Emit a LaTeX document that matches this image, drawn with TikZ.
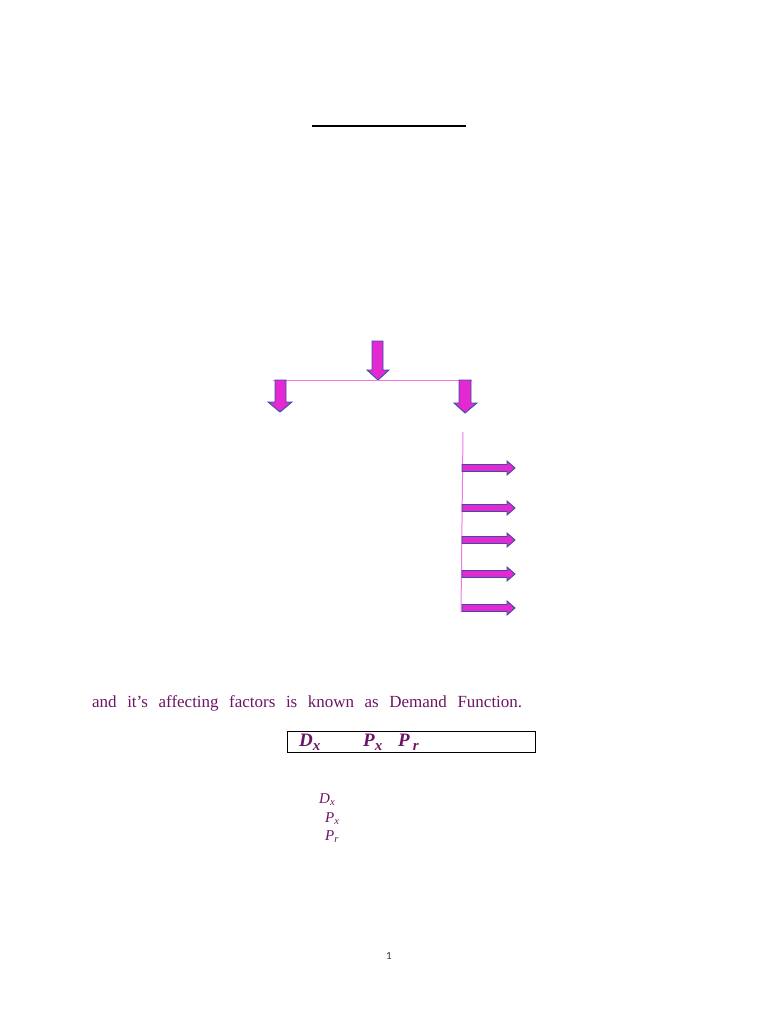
\documentclass[tikz,border=0pt]{standalone}
\usepackage{fontspec}
\setmainfont{Liberation Serif}
\newfontfamily\pagefont{Carlito}
\usepackage{tikz}
\usepackage{xcolor}

\definecolor{arrowfill}{RGB}{228,40,210}
\definecolor{arrowedge}{RGB}{55,80,160}
\definecolor{linkpink}{RGB}{240,120,230}
\definecolor{textpurple}{RGB}{110,20,100}

\newcommand{\lowsub}[1]{\raisebox{-4pt}{\fontsize{15}{17}\selectfont #1}}

\tikzset{
    blockarrow/.style={fill=arrowfill,draw=arrowedge,line width=0.9pt,line join=miter},
    linkline/.style={draw=linkpink,line width=1pt},
    purpletext/.style={text=textpurple,inner sep=0pt},
    boxvar/.style={purpletext,anchor=base west,font=\fontsize{19}{22}\selectfont\bfseries\itshape},
    smallvar/.style={purpletext,anchor=base west,font=\fontsize{15}{17}\selectfont\itshape}
}

\begin{document}
\begin{tikzpicture}[x=1pt,y=-1pt]
        \useasboundingbox (0,0) rectangle (768,1024);
        % heading rule
        \draw[line width=2pt] (312,126) -- (466,126);
        % down arrows
        \draw[blockarrow] (372,341) -- (383,341) -- (383,370) -- (389,370) -- (378,380) -- (367,370) -- (372,370) -- cycle;
        \draw[linkline] (273,380) -- (472,380);
        \draw[blockarrow] (275,380) -- (286,380) -- (286,402) -- (292,402) -- (280,412) -- (268,402) -- (275,402) -- cycle;
        \draw[blockarrow] (459,380) -- (471,380) -- (471,403) -- (477,403) -- (465,413) -- (454,403) -- (459,403) -- cycle;
        % right arrows
        \draw[linkline] (463,432) -- (461,612);
        \foreach \yy in {468,508,540,574,608}
            \draw[blockarrow] (462,\yy-3.5) -- (507,\yy-3.5) -- (507,\yy-7) -- (515,\yy) -- (507,\yy+7) -- (507,\yy+3.5) -- (462,\yy+3.5) -- cycle;
        % text
        \node[purpletext,anchor=base west,font=\fontsize{17}{20}\selectfont] (demandtext) at (92,707)
            {\makebox[430pt][s]{and it’s affecting factors is known as Demand Function.}};
        \node[draw,line width=1pt,minimum width=248pt,minimum height=21pt,inner sep=0pt] (fnbox) at (411,741.5) {};
        \node[boxvar] (dx) at (299,746) {D\lowsub{x}};
        \node[boxvar] (px) at (363,746) {P\lowsub{x}};
        \node[boxvar] (pr) at (398,746) {P\,\lowsub{r}};
        \node[smallvar] (dxsmall) at (319,803) {D\textsubscript{x}};
        \node[smallvar] (pxsmall) at (325,822) {P\textsubscript{x}};
        \node[smallvar] (prsmall) at (325,840) {P\textsubscript{r}};
        \node[anchor=base,font=\pagefont\fontsize{11}{13}\selectfont,text=black!80] (pagenum) at (389,959) {1};
\end{tikzpicture}
\end{document}
